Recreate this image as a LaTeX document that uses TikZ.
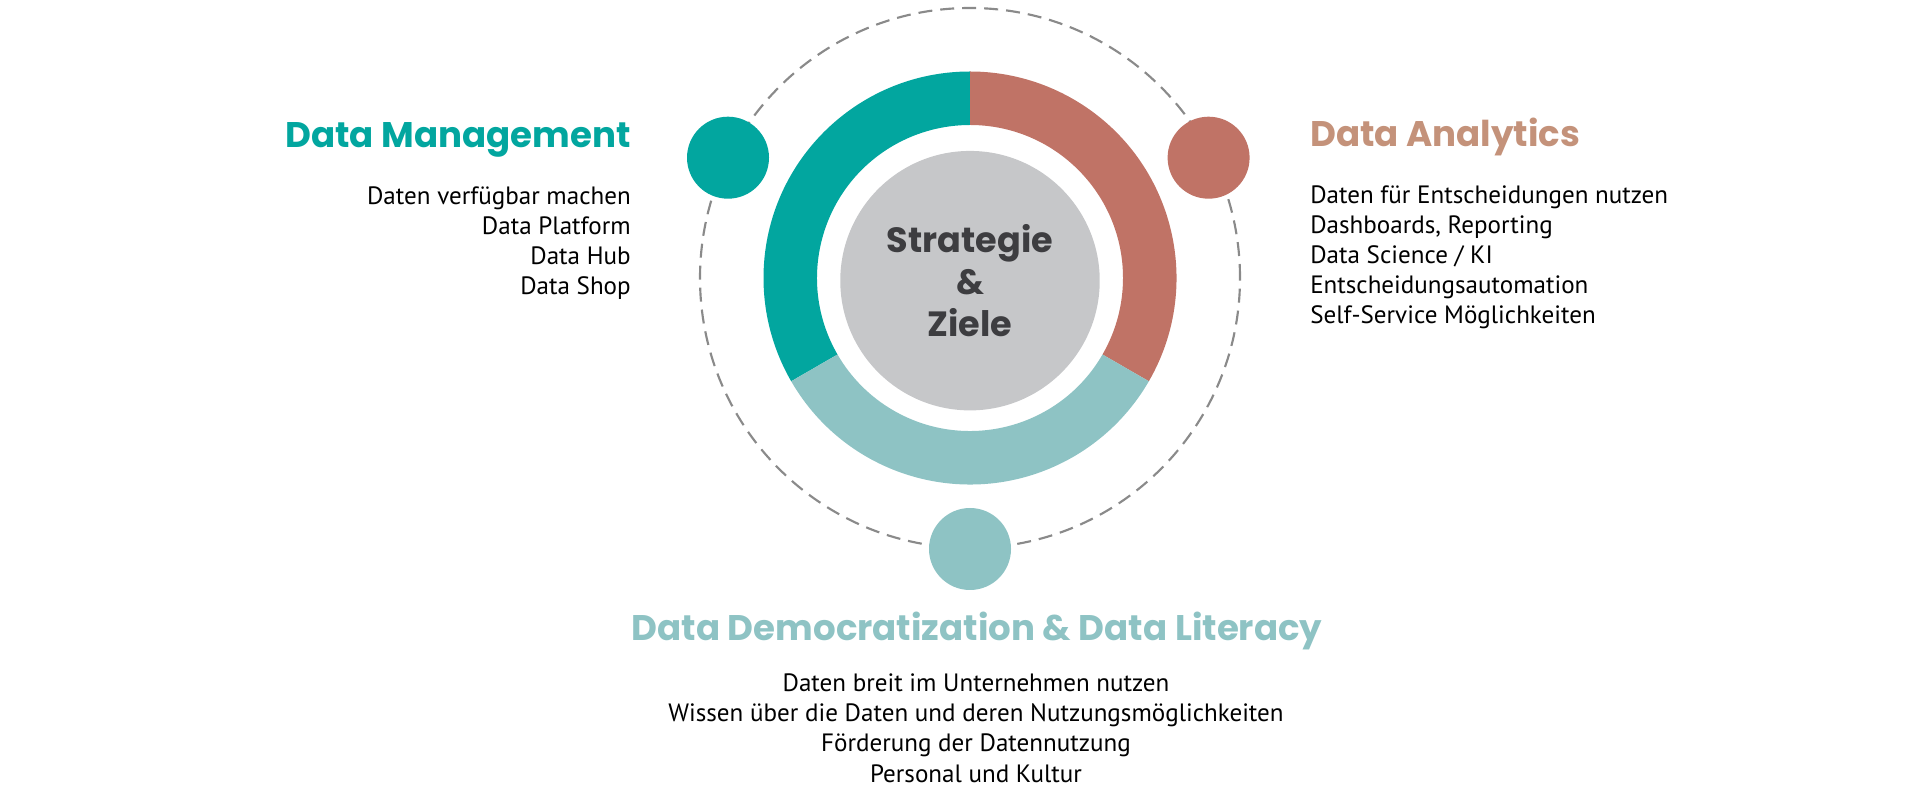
\documentclass[tikz,border=0pt]{standalone}
\usepackage{fontspec}
\setmainfont{PT Sans}
\newfontfamily\headfont{Poppins}
\usetikzlibrary{positioning}
\definecolor{mgmtcol}{HTML}{02A69F}
\definecolor{anacol}{HTML}{C07366}
\definecolor{anahead}{HTML}{C4927A}
\definecolor{democol}{HTML}{8EC3C4}
\definecolor{goalcol}{HTML}{C6C7C9}
\definecolor{goaltext}{HTML}{3D3D40}
\definecolor{orbitcol}{HTML}{8A8A8A}
\tikzstyle{dot} = [circle, minimum size=61.5pt, inner sep=0pt]
\tikzstyle{head} = [font={\headfont\bfseries\fontsize{26.7}{30}\selectfont}, inner sep=0pt]
\tikzstyle{body} = [font={\fontsize{18.8}{22.6}\selectfont}, inner sep=0pt]
\tikzstyle{goal} = [circle, fill=goalcol, minimum size=194.6pt, inner sep=0pt, align=center, text=goaltext, font={\headfont\bfseries\fontsize{26.3}{31.5}\selectfont}]

\begin{document}
\begin{tikzpicture}[x=0.75pt,y=0.75pt]
        \useasboundingbox (0,0) rectangle (1920,800);
        \coordinate (c) at (970,522);
        \draw[orbitcol, line width=1.6pt, dash pattern=on 10.5pt off 6pt] (c) circle[radius=270];
        % ring
        \begin{scope}[shift={(c)}]
        \fill[mgmtcol] (90:206.5) arc[start angle=90,end angle=210,radius=206.5] -- (210:153) arc[start angle=210,end angle=90,radius=153] -- cycle;
        \fill[anacol] (-30:206.5) arc[start angle=-30,end angle=90,radius=206.5] -- (90:153) arc[start angle=90,end angle=-30,radius=153] -- cycle;
        \fill[democol] (210:206.5) arc[start angle=210,end angle=330,radius=206.5] -- (330:153) arc[start angle=330,end angle=210,radius=153] -- cycle;
        \end{scope}
        \node[goal](goal) at ([yshift=-2pt]c){Strategie\\\&\\Ziele};
        \node[dot,fill=mgmtcol](mgmtdot) at (728,642.3){};
        \node[dot,fill=anacol](anadot) at (1208.6,642.3){};
        \node[dot,fill=democol](demodot) at (970,251){};
        % texts (base = last line)
        \node[head,text=mgmtcol,anchor=base east](mgmthead) at (631,652.5){Data Management};
        \node[body,align=right,anchor=base east](mgmttext) at (631,505.5){Daten verfügbar machen\\Data Platform\\Data Hub\\Data Shop};
        \node[head,text=anahead,anchor=base west](anahead) at (1310,653){Data Analytics};
        \node[body,align=left,anchor=base west](anatext) at (1310,476.4){Daten für Entscheidungen nutzen\\Dashboards, Reporting\\Data Science / KI\\Entscheidungsautomation\\Self-Service Möglichkeiten};
        \node[head,text=democol,anchor=base](demohead) at (977,160){Data Democratization \& Data Literacy};
        \node[body,align=center,anchor=base](demotext) at (976,18){Daten breit im Unternehmen nutzen\\Wissen über die Daten und deren Nutzungsmöglichkeiten\\Förderung der Datennutzung\\Personal und Kultur};
      \end{tikzpicture}
\end{document}
